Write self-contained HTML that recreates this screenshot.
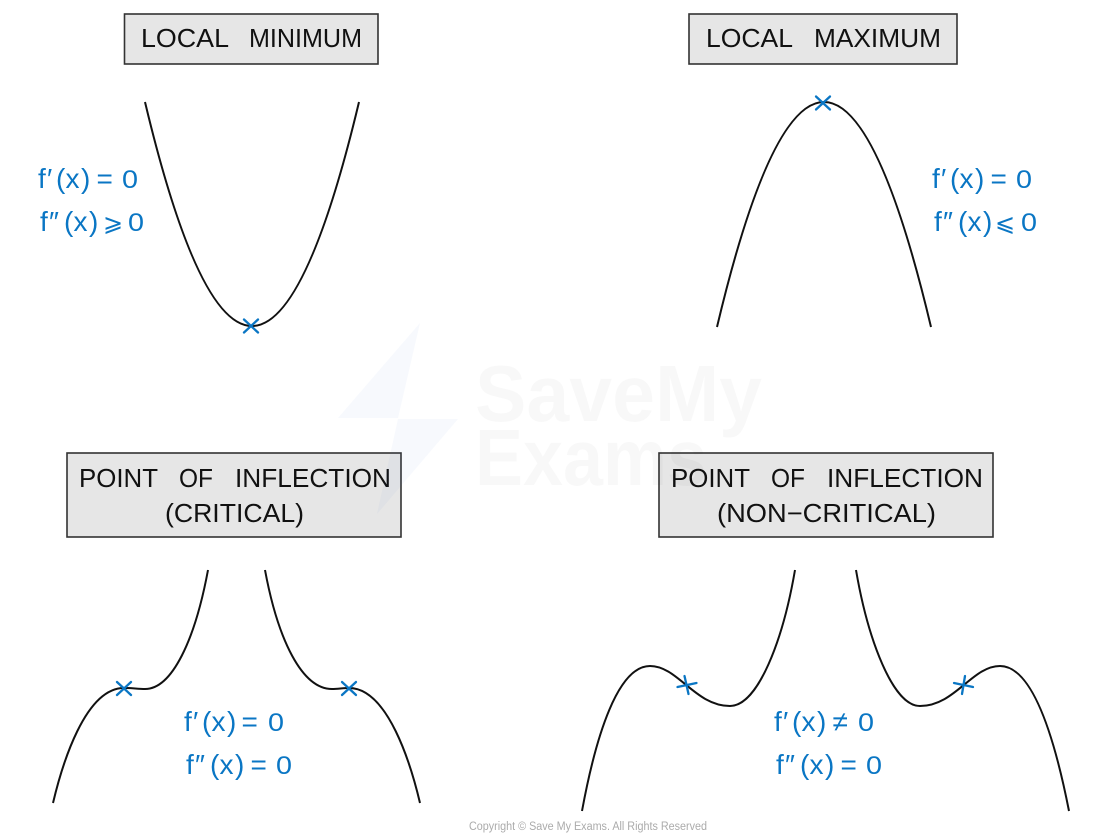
<!DOCTYPE html>
<html lang="en">
<head>
<meta charset="utf-8">
<title>Stationary points and points of inflection</title>
<style>
html,body{margin:0;padding:0;background:#fff;width:1100px;height:838px;overflow:hidden}
svg{display:block}
.h{font-family:"Liberation Sans",sans-serif;font-size:26px;fill:#111}
.m{font-family:"Liberation Sans","DejaVu Sans",sans-serif;font-size:25px;fill:#0a76c4}
.f{font-family:"Liberation Sans","DejaVu Sans",sans-serif;font-size:28px;fill:#0a76c4}
.op{font-family:"Liberation Sans","DejaVu Sans",sans-serif;font-size:28px;fill:#0a76c4}
.ge{font-family:"DejaVu Sans",sans-serif;font-size:24px;fill:#0a76c4}
.box{fill:#e6e6e6;stroke:#333;stroke-width:1.6}
.c{fill:none;stroke:#111;stroke-width:2;stroke-linecap:butt}
.x{fill:none;stroke:#0a76c4;stroke-width:2.3;stroke-linecap:round}
.wm{font-family:"Liberation Sans",sans-serif;font-weight:bold;font-size:80px;fill:#000;fill-opacity:.028}
</style>
</head>
<body>
<svg width="1100" height="838" viewBox="0 0 1100 838" xmlns="http://www.w3.org/2000/svg">
  <!-- title boxes -->
  <rect class="box" x="124.5" y="14" width="253.5" height="50"/>
  <rect class="box" x="689" y="14" width="268" height="50"/>
  <rect class="box" x="67" y="453" width="334" height="84"/>
  <rect class="box" x="659" y="453" width="334" height="84"/>

  <text class="h" x="141" y="47" textLength="88" lengthAdjust="spacingAndGlyphs">LOCAL</text>
  <text class="h" x="249" y="47" textLength="113" lengthAdjust="spacingAndGlyphs">MINIMUM</text>
  <text class="h" x="706" y="47" textLength="87" lengthAdjust="spacingAndGlyphs">LOCAL</text>
  <text class="h" x="814" y="47" textLength="127" lengthAdjust="spacingAndGlyphs">MAXIMUM</text>

  <text class="h" x="79" y="487" textLength="79" lengthAdjust="spacingAndGlyphs">POINT</text>
  <text class="h" x="179" y="487" textLength="34" lengthAdjust="spacingAndGlyphs">OF</text>
  <text class="h" x="235" y="487" textLength="156" lengthAdjust="spacingAndGlyphs">INFLECTION</text>
  <text class="h" x="165" y="522" textLength="139" lengthAdjust="spacingAndGlyphs">(CRITICAL)</text>

  <text class="h" x="671" y="487" textLength="79" lengthAdjust="spacingAndGlyphs">POINT</text>
  <text class="h" x="771" y="487" textLength="34" lengthAdjust="spacingAndGlyphs">OF</text>
  <text class="h" x="827" y="487" textLength="156" lengthAdjust="spacingAndGlyphs">INFLECTION</text>
  <text class="h" x="717" y="522" textLength="219" lengthAdjust="spacingAndGlyphs">(NON−CRITICAL)</text>

  <!-- curves -->
  <path class="c" d="M145 102 Q252 550 359 102"/>
  <path class="c" d="M717 327 Q824 -123 931 327"/>
  <path class="c" d="M53 803 C62 765 85 688 124 688 C132 688 138 689 145 689 C172 689 195 640 208 570"/>
  <path class="c" d="M265 570 C278 640 302 689 332 689 C338 689 343 688 349 688 C388 688 411 765 420 803"/>
  <path class="c" d="M582 811 C596 735 618 666 650 666 C678 666 695 706 730 706 C758 706 783 640 795 570"/>
  <path class="c" d="M856 570 C868 640 893 706 920 706 C955 706 972 666 1000 666 C1032 666 1054 735 1069 811"/>

  <!-- marks -->
  <path class="x" d="M244 319.5 L258 332.5 M258 319.5 L244 332.5"/>
  <path class="x" d="M816 96.5 L830 109.5 M830 96.5 L816 109.5"/>
  <path class="x" d="M117 682 L131 695 M131 682 L117 695"/>
  <path class="x" d="M342 682 L356 695 M356 682 L342 695"/>
  <path class="x" d="M677.5 687 L696.5 683 M684.5 676 L688.5 694"/>
  <path class="x" d="M954 683 L973 687 M965 676 L962 694"/>

  <!-- formulas: top left -->
  <text class="f" x="38 47 56 65.5 81" y="188">f′(x)</text>
  <text class="op" x="96.5" y="188">=</text>
  <text class="m" x="122" y="188" textLength="16" lengthAdjust="spacingAndGlyphs">0</text>
  <text class="f" x="40 49 64 73.5 89" y="231">f″(x)</text>
  <text class="ge" x="103" y="231">⩾</text>
  <text class="m" x="128" y="231" textLength="16" lengthAdjust="spacingAndGlyphs">0</text>

  <!-- formulas: top right -->
  <text class="f" x="932 941 950 959.5 975" y="188">f′(x)</text>
  <text class="op" x="990.5" y="188">=</text>
  <text class="m" x="1016" y="188" textLength="16" lengthAdjust="spacingAndGlyphs">0</text>
  <text class="f" x="934 943 958 967.5 983" y="231">f″(x)</text>
  <text class="ge" x="995" y="231">⩽</text>
  <text class="m" x="1021" y="231" textLength="16" lengthAdjust="spacingAndGlyphs">0</text>

  <!-- formulas: bottom left -->
  <text class="f" x="184 193 202 211.5 227" y="731">f′(x)</text>
  <text class="op" x="241.5" y="731">=</text>
  <text class="m" x="268" y="731" textLength="16" lengthAdjust="spacingAndGlyphs">0</text>
  <text class="f" x="186 195 210 219.5 235" y="774">f″(x)</text>
  <text class="op" x="250.5" y="774">=</text>
  <text class="m" x="276" y="774" textLength="16" lengthAdjust="spacingAndGlyphs">0</text>

  <!-- formulas: bottom right -->
  <text class="f" x="774 783 792 801.5 817" y="731">f′(x)</text>
  <text class="op" x="832.5" y="731">≠</text>
  <text class="m" x="858" y="731" textLength="16" lengthAdjust="spacingAndGlyphs">0</text>
  <text class="f" x="776 785 800 809.5 825" y="774">f″(x)</text>
  <text class="op" x="840.5" y="774">=</text>
  <text class="m" x="866" y="774" textLength="16" lengthAdjust="spacingAndGlyphs">0</text>

  <!-- watermark -->
  <path d="M420 323 L338 418 L398 418 Z M398 419 L458 419 L377 514 Z" fill="#2a5fd0" fill-opacity=".04"/>
  <text class="wm" x="475" y="421" textLength="287" lengthAdjust="spacingAndGlyphs">SaveMy</text>
  <text class="wm" x="475" y="485" textLength="232" lengthAdjust="spacingAndGlyphs">Exams</text>

  <text x="469" y="830" textLength="238" lengthAdjust="spacingAndGlyphs" font-family="'Liberation Sans',sans-serif" font-size="11.5" fill="#ababab">Copyright © Save My Exams. All Rights Reserved</text>
</svg>
</body>
</html>
